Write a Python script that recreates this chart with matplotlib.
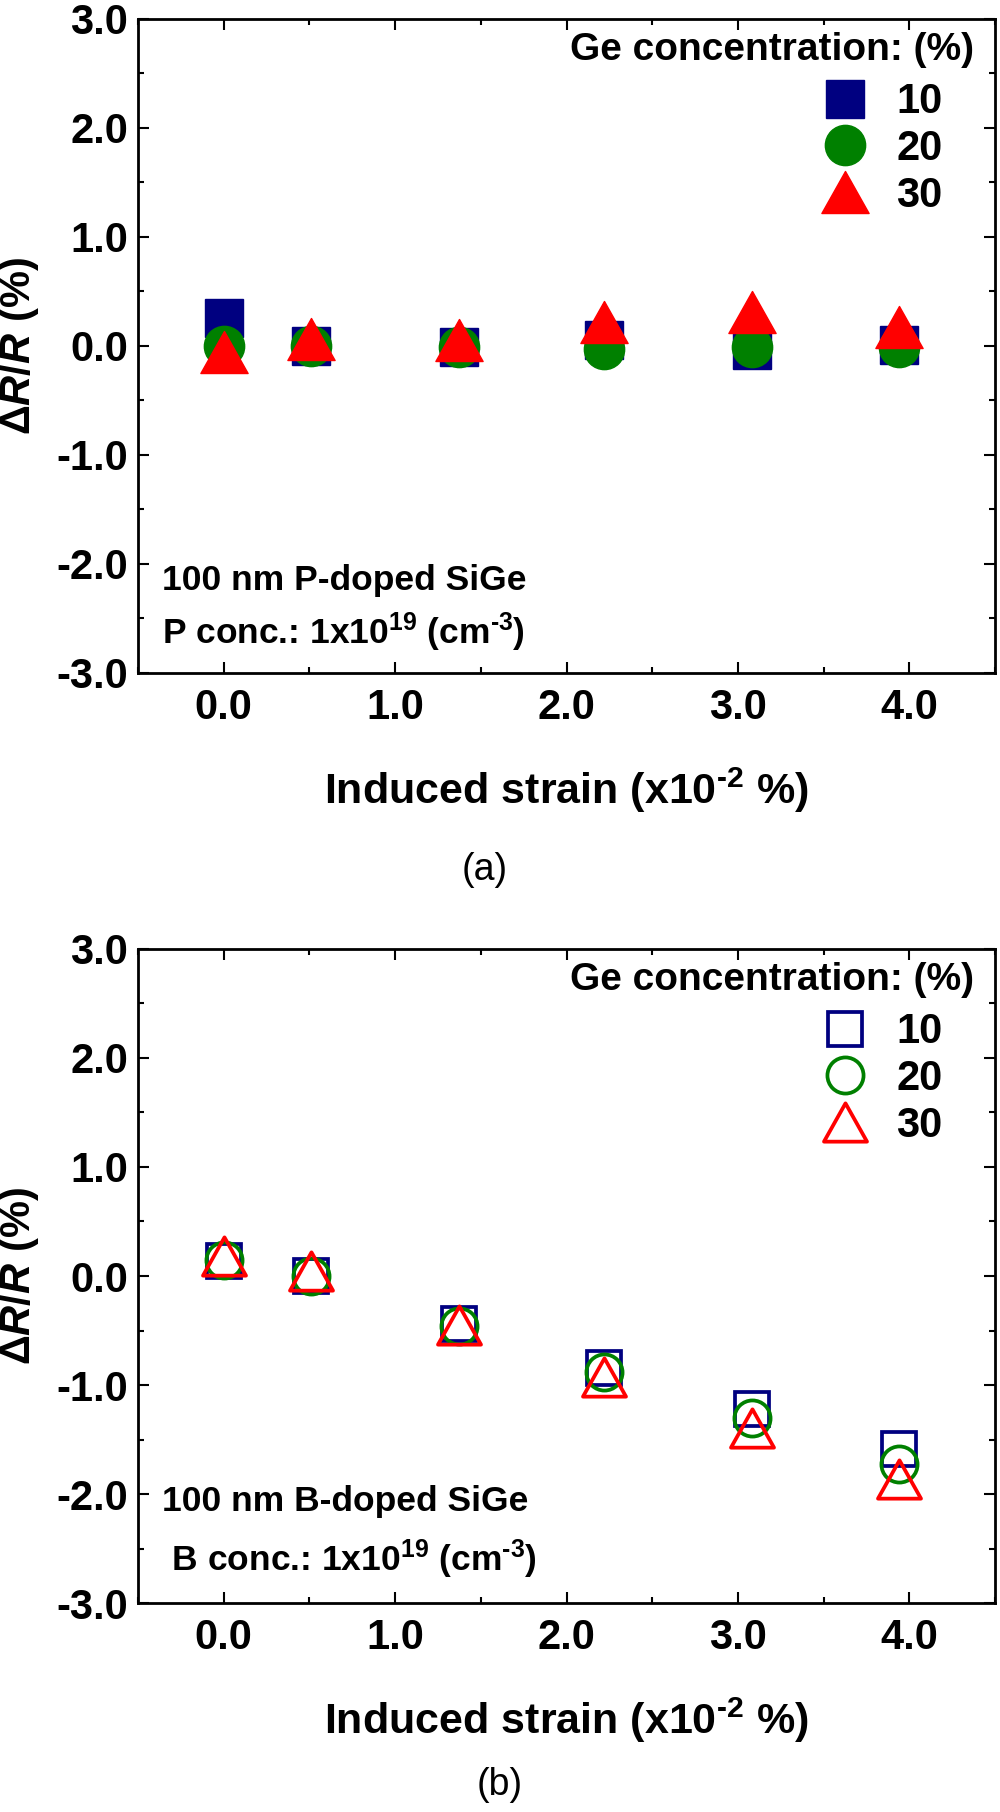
import matplotlib
matplotlib.use("Agg")
import numpy as np
from matplotlib import pyplot as plt
from matplotlib.path import Path
from matplotlib.ticker import MultipleLocator, FormatStrFormatter

plt.rcParams['font.family'] = ['Liberation Sans', 'DejaVu Sans']
plt.rcParams['font.weight'] = 'bold'
plt.rcParams['mathtext.fontset'] = 'custom'
plt.rcParams['mathtext.rm'] = 'Liberation Sans:bold'
plt.rcParams['mathtext.bf'] = 'Liberation Sans:bold'
plt.rcParams['mathtext.it'] = 'Liberation Sans:italic:bold'

# induced strain (x10^-2 %)
strain = [0.0, 0.51, 1.37, 2.22, 3.08, 3.94]
ge_labels = ['10', '20', '30']

# dR/R (%) for P-doped SiGe
p_ge10 = [0.26, 0.00, -0.01, 0.05, -0.04, 0.01]
p_ge20 = [0.00, 0.00, -0.01, -0.03, -0.01, -0.01]
p_ge30 = [-0.06, 0.06, 0.05, 0.22, 0.31, 0.17]

# dR/R (%) for B-doped SiGe
b_ge10 = [0.14, 0.00, -0.44, -0.84, -1.22, -1.59]
b_ge20 = [0.15, 0.00, -0.46, -0.88, -1.30, -1.72]
b_ge30 = [0.18, 0.05, -0.45, -0.93, -1.39, -1.86]

colors = ['#000080', '#008000', '#ff0000']
# slightly wide triangle, closed so the open version gets all three sides
tri = Path([(0.0, 0.89), (-1.0, -0.89), (1.0, -0.89), (0.0, 0.89)],
           [Path.MOVETO, Path.LINETO, Path.LINETO, Path.CLOSEPOLY])
markers = ['s', 'o', tri]
sizes = [27, 29, 34]


def draw_panel(ax, series, filled, line1, line2, text_y):
    for vals, c, m, ms, lab in zip(series, colors, markers, sizes, ge_labels):
        if filled:
            ax.plot(strain, vals, linestyle='none', marker=m, ms=ms,
                    mfc=c, mec=c, mew=1, label=lab)
        else:
            ax.plot(strain, vals, linestyle='none', marker=m, ms=ms - 3,
                    mfc='none', mec=c, mew=2.7, label=lab)

    ax.set_xlim(-0.5, 4.5)
    ax.set_ylim(-3.0, 3.0)
    ax.xaxis.set_major_locator(MultipleLocator(1.0))
    ax.xaxis.set_minor_locator(MultipleLocator(0.5))
    ax.yaxis.set_major_locator(MultipleLocator(1.0))
    ax.yaxis.set_minor_locator(MultipleLocator(0.5))
    ax.xaxis.set_major_formatter(FormatStrFormatter('%.1f'))
    ax.yaxis.set_major_formatter(FormatStrFormatter('%.1f'))
    ax.tick_params(which='both', direction='in', top=True, right=True,
                   width=1.5, labelsize=30)
    ax.tick_params(which='major', length=8)
    ax.tick_params(which='minor', length=4.5)
    ax.tick_params(axis='x', which='major', pad=11)
    ax.tick_params(axis='y', which='major', pad=7)
    for sp in ax.spines.values():
        sp.set_linewidth(2)

    ax.set_xlabel('Induced strain (x10$^{\\text{-2}}$ %)', fontsize=31,
                  fontweight='bold')
    ax.xaxis.set_label_coords(0.5, -0.142)
    ax.set_ylabel('$\\mathit{ΔR/R}$ (%)', fontsize=30, fontweight='bold')
    ax.yaxis.set_label_coords(-0.113, 0.5)

    ax.text(-0.36, text_y[0], line1, fontsize=25.5, fontweight='bold',
            va='baseline', ha='left')
    ax.text(-0.36, text_y[1], line2, fontsize=25.5, fontweight='bold',
            va='baseline', ha='left')

    ax.text(0.976, 0.953, 'Ge concentration: (%)', transform=ax.transAxes,
            fontsize=28, fontweight='bold', ha='right', va='center')
    ax.legend(loc='upper left', bbox_to_anchor=(0.802, 0.903), frameon=False,
              fontsize=30, numpoints=1, handlelength=0.95,
              handletextpad=0.75, labelspacing=0.16, borderpad=0,
              borderaxespad=0)


fig = plt.figure(figsize=(10, 18.12), dpi=100)
ax1 = fig.add_axes([0.138, 0.6286, 0.857, 0.361])
ax2 = fig.add_axes([0.138, 0.1153, 0.857, 0.361])

draw_panel(ax1, [p_ge10, p_ge20, p_ge30], True,
           '100 nm P-doped SiGe',
           'P conc.: 1x10$^{19}$ (cm$^{\\text{-3}}$)', (-2.24, -2.73))
draw_panel(ax2, [b_ge10, b_ge20, b_ge30], False,
           '100 nm B-doped SiGe',
           ' B conc.: 1x10$^{19}$ (cm$^{\\text{-3}}$)', (-2.16, -2.70))

fig.text(0.485, 1 - 870 / 1812, '(a)', fontsize=27, fontweight='normal',
         ha='center', va='center')
fig.text(0.5, 1 - 1785 / 1812, '(b)', fontsize=27, fontweight='normal',
         ha='center', va='center')

plt.savefig('out.png', dpi=100)
